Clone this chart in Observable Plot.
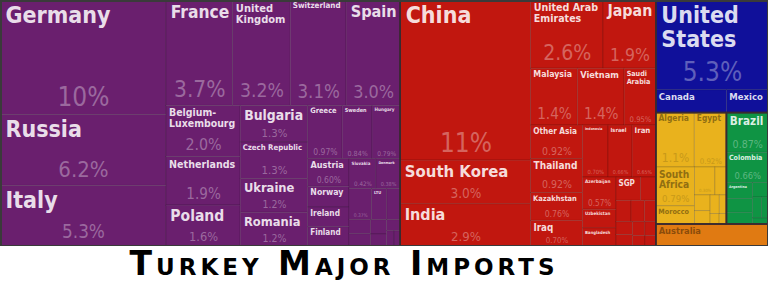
<!DOCTYPE html>
<html><head><meta charset="utf-8">
<script src="https://cdn.jsdelivr.net/npm/d3@7"></script>
<script src="https://cdn.jsdelivr.net/npm/@observablehq/plot@0.6"></script>
<style>
html,body{margin:0;padding:0;background:#fff;width:768px;height:284px;overflow:hidden;}
#chart{position:absolute;left:0;top:0;}
#title{position:absolute;left:0;top:249px;width:688px;height:30px;text-align:center;font-family:"DejaVu Sans",sans-serif;font-weight:900;font-variant:small-caps;font-size:33px;letter-spacing:4px;line-height:30px;color:#000;white-space:nowrap;}
</style></head><body>
<div id="chart"></div>
<div id="title">Turkey Major Imports</div>
<script>
// ---- data (shares of total imports, %) ----
const regions = ["Europe", "Asia", "North America", "Africa", "South America", "Oceania"];

const europeNames = ["Germany","Russia","Italy","France","United Kingdom","Switzerland","Spain","Belgium-Luxembourg","Netherlands","Poland","Bulgaria","Czech Republic","Ukraine","Romania","Greece","Sweden","Hungary","Austria","Norway","Ireland","Finland","Slovakia","Denmark","Portugal","LTU","Latvia","Slovenia","Belarus","Serbia","Estonia","Croatia","Moldova","Malta"];
const europeShares = [10,6.2,5.3,3.7,3.2,3.1,3.0,2.0,1.9,1.6,1.3,1.3,1.2,1.2,0.97,0.84,0.79,0.60,0.45,0.43,0.42,0.42,0.38,0.37,0.25,0.22,0.16,0.14,0.12,0.10,0.08,0.06,0.05];

const asiaNames = ["China","South Korea","India","United Arab Emirates","Japan","Malaysia","Vietnam","Saudi Arabia","Other Asia","Thailand","Kazakhstan","Iraq","Indonesia","Israel","Iran","Azerbaijan","Uzbekistan","Bangladesh","SGP","Turkmenistan","Qatar","Kuwait","Pakistan","Georgia","Philippines","Hong Kong","Oman","Sri Lanka","Jordan"];
const asiaShares = [11,3.0,2.9,2.6,1.9,1.4,1.4,0.95,0.92,0.92,0.76,0.70,0.70,0.66,0.65,0.57,0.33,0.32,0.30,0.19,0.17,0.15,0.13,0.11,0.10,0.09,0.08,0.07,0.06];

const northAmericaNames = ["United States","Canada","Mexico"];
const northAmericaShares = [5.3,0.85,0.50];

const africaNames = ["Algeria","Egypt","South Africa","Morocco","Nigeria","Tunisia","Ivory Coast","Libya","Ghana","Sudan","Mauritania","Kenya"];
const africaShares = [1.1,0.92,0.79,0.37,0.30,0.17,0.13,0.11,0.09,0.07,0.05,0.04];

const southAmericaNames = ["Brazil","Colombia","Argentina","Chile","Peru","Uruguay","Paraguay","Ecuador","Bolivia"];
const southAmericaShares = [0.87,0.66,0.22,0.19,0.16,0.12,0.10,0.07,0.05];

const oceaniaNames = ["Australia"];
const oceaniaShares = [1.3];

const title = "Turkey Major Imports";

// ---- styling ----
const regionColor = {
  "Europe": "#6a1f6e",
  "Asia": "#c1170f",
  "North America": "#10109a",
  "Africa": "#e9b21d",
  "South America": "#0f9444",
  "Oceania": "#e07a12"
};
const FONT = '"Liberation Sans Narrow","DejaVu Sans Condensed","Roboto Condensed","Open Sans",sans-serif';
const W = 768, H = 246;

document.getElementById("title").textContent = title;

const allNames = [europeNames, asiaNames, northAmericaNames, africaNames, southAmericaNames, oceaniaNames];
const allShares = [europeShares, asiaShares, northAmericaShares, africaShares, southAmericaShares, oceaniaShares];

const tree = {name: "Turkey", children: regions.map((r, i) => ({
  name: r,
  children: allNames[i].map((n, j) => ({name: n, value: allShares[i][j]}))
}))};

const root = d3.hierarchy(tree).sum(d => d.value).sort((a, b) => b.value - a.value);
d3.treemap().tile(d3.treemapSquarify).size([W, H])(root);

const ctx = document.createElement("canvas").getContext("2d");
function measure(text, weight) {
  ctx.font = `${weight} 100px ${FONT}`;
  return ctx.measureText(text).width / 100;
}

function sizeFor(lines, w, h, withPct) {
  const n = lines.length;
  const wm = d3.max(lines, l => measure(l, 700));
  let s = Math.min(23, (w - 8) / wm);
  if (withPct) s = Math.min(s, n === 1 ? 0.38 * h : 0.55 * h / (n * 1.05));
  else s = Math.min(s, n === 1 ? 0.42 * h : 0.75 * h / (n * 1.05));
  return s;
}

function fitLabel(name, w, h, withPct) {
  const single = {lines: [name], size: sizeFor([name], w, h, withPct)};
  const parts = name.split(/(?<=[ \-])/);
  let multi = null;
  for (let k = 1; k < parts.length; k++) {
    const lines = [parts.slice(0, k).join("").trim(), parts.slice(k).join("").trim()];
    const s = sizeFor(lines, w, h, withPct);
    if (!multi || s > multi.size + 0.01) multi = {lines, size: s};
  }
  // prefer a single line unless wrapping gives a clearly larger text
  return multi && multi.size > single.size * 1.35 ? multi : single;
}

const cells = root.leaves().map(n => {
  const w = n.x1 - n.x0, h = n.y1 - n.y0;
  const region = n.parent.data.name;
  const bg = regionColor[region];
  const light = d3.lab(bg).l > 60;
  const labelColor = light ? d3.interpolateRgb(bg, "#000")(0.38) : d3.interpolateRgb(bg, "#fff")(0.85);
  const pctColor = light ? d3.interpolateRgb(bg, "#000")(0.14) : d3.interpolateRgb(bg, "#fff")(0.33);
  const pctText = d3.format(".2r")(n.data.value) + "%";
  let showPct = h >= 25 && w >= 18;
  const lab = fitLabel(n.data.name, w, h, showPct);
  const showLabel = n.data.value >= 0.2 && lab.size >= 3.5;
  const ls = lab.size;
  const pad = Math.max(2, Math.min(5, ls * 0.25));
  let ps = 0, ppad = 0;
  if (showPct) {
    ps = Math.min(26, 0.31 * h, (w - 6) * 0.85 / measure(pctText, 500));
    ppad = Math.max(3, Math.min(9, ps * 0.45));
    const labelBottom = showLabel ? pad + lab.lines.length * 1.05 * ls : 0;
    const avail = h - ppad - labelBottom - 1;
    ps = Math.min(ps, avail);
    if (ps < 3.5) showPct = false;
  }
  return {name: n.data.name, value: n.data.value, region, x0: n.x0, x1: n.x1, y0: n.y0, y1: n.y1,
    fill: bg, labelColor, pctColor, lines: lab.lines, ls, pad, showLabel, showPct, ps, ppad, pctText};
});

const regionCells = root.children.map(n => ({name: n.data.name, x0: n.x0, x1: n.x1, y0: n.y0, y1: n.y1}));

const chart = Plot.plot({
  width: W, height: H, margin: 0,
  x: {type: "linear", domain: [0, W], range: [0, W], axis: null},
  y: {type: "linear", domain: [0, H], range: [0, H], axis: null},
  color: {type: "identity"},
  style: {background: "transparent", overflow: "hidden"},
  marks: [
    Plot.rect(cells, {x1: "x0", x2: "x1", y1: "y0", y2: "y1", fill: "fill", stroke: "rgba(0,0,0,0.2)", strokeWidth: 0.8}),
    Plot.rect(regionCells, {x1: "x0", x2: "x1", y1: "y0", y2: "y1", fill: "none", stroke: "#3a2a30", strokeWidth: 1.6}),
    Plot.text(cells.filter(d => d.showLabel), {
      x: d => d.x0 + d.pad, y: d => d.y0 + d.pad, text: d => d.lines.join("\n"),
      fontSize: d => d.ls, fill: d => d.labelColor, textAnchor: "start", lineAnchor: "top",
      lineHeight: 1.05, fontWeight: 700, fontFamily: FONT
    }),
    Plot.text(cells.filter(d => d.showPct), {
      x: d => (d.x0 + d.x1) / 2, y: d => d.y1 - d.ppad, text: "pctText",
      fontSize: d => d.ps, fill: d => d.pctColor, textAnchor: "middle", lineAnchor: "bottom",
      fontWeight: 500, fontFamily: FONT
    }),
    Plot.frame({stroke: "#3a3a3a", strokeWidth: 3})
  ]
});
document.getElementById("chart").appendChild(chart);
</script>
</body></html>
